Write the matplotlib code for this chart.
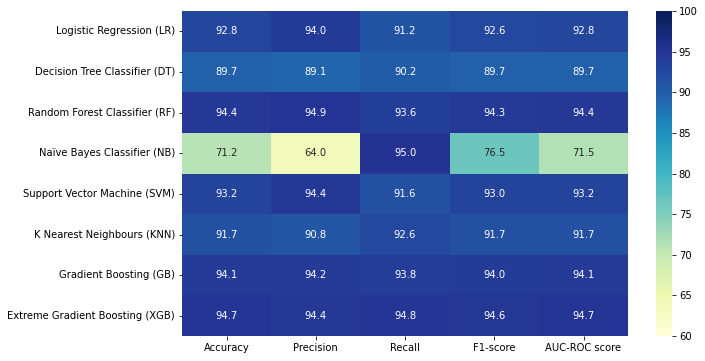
import matplotlib

matplotlib.use("Agg")

import matplotlib.pyplot as plt  # noqa: E402
import numpy as np  # noqa: E402
import pandas as pd  # noqa: E402
import seaborn as sns  # noqa: E402

models = [
    "Logistic Regression (LR)",
    "Decision Tree Classifier (DT)",
    "Random Forest Classifier (RF)",
    "Naïve Bayes Classifier (NB)",
    "Support Vector Machine (SVM)",
    "K Nearest Neighbours (KNN)",
    "Gradient Boosting (GB)",
    "Extreme Gradient Boosting (XGB)",
]
metrics = ["Accuracy", "Precision", "Recall", "F1-score", "AUC-ROC score"]

accuracy = [92.8, 89.7, 94.4, 71.2, 93.2, 91.7, 94.1, 94.7]
precision = [94.0, 89.1, 94.9, 64.0, 94.4, 90.8, 94.2, 94.4]
recall = [91.2, 90.2, 93.6, 95.0, 91.6, 92.6, 93.8, 94.8]
f1 = [92.6, 89.7, 94.3, 76.5, 93.0, 91.7, 94.0, 94.6]
auc = [92.8, 89.7, 94.4, 71.5, 93.2, 91.7, 94.1, 94.7]

df = pd.DataFrame(np.column_stack([accuracy, precision, recall, f1, auc]),
                  index=models, columns=metrics)

fig = plt.figure(figsize=(705 / 72, 361 / 72), dpi=72)
ax = fig.add_axes([0.258, 0.069, 0.633, 0.9005])
cax = fig.add_axes([0.930, 0.069, 0.023, 0.9005])

sns.heatmap(df, ax=ax, cbar_ax=cax, cmap="YlGnBu", vmin=60, vmax=100,
            annot=True, fmt=".1f", annot_kws={"fontsize": 10})
ax.tick_params(labelsize=10)
ax.set_yticklabels(models, rotation=0)
ax.set_xticklabels(metrics, rotation=0)
cax.tick_params(labelsize=10)
cax.set_yticks([60, 65, 70, 75, 80, 85, 90, 95, 100])

fig.savefig("out.png", dpi=72)
plt.close(fig)
